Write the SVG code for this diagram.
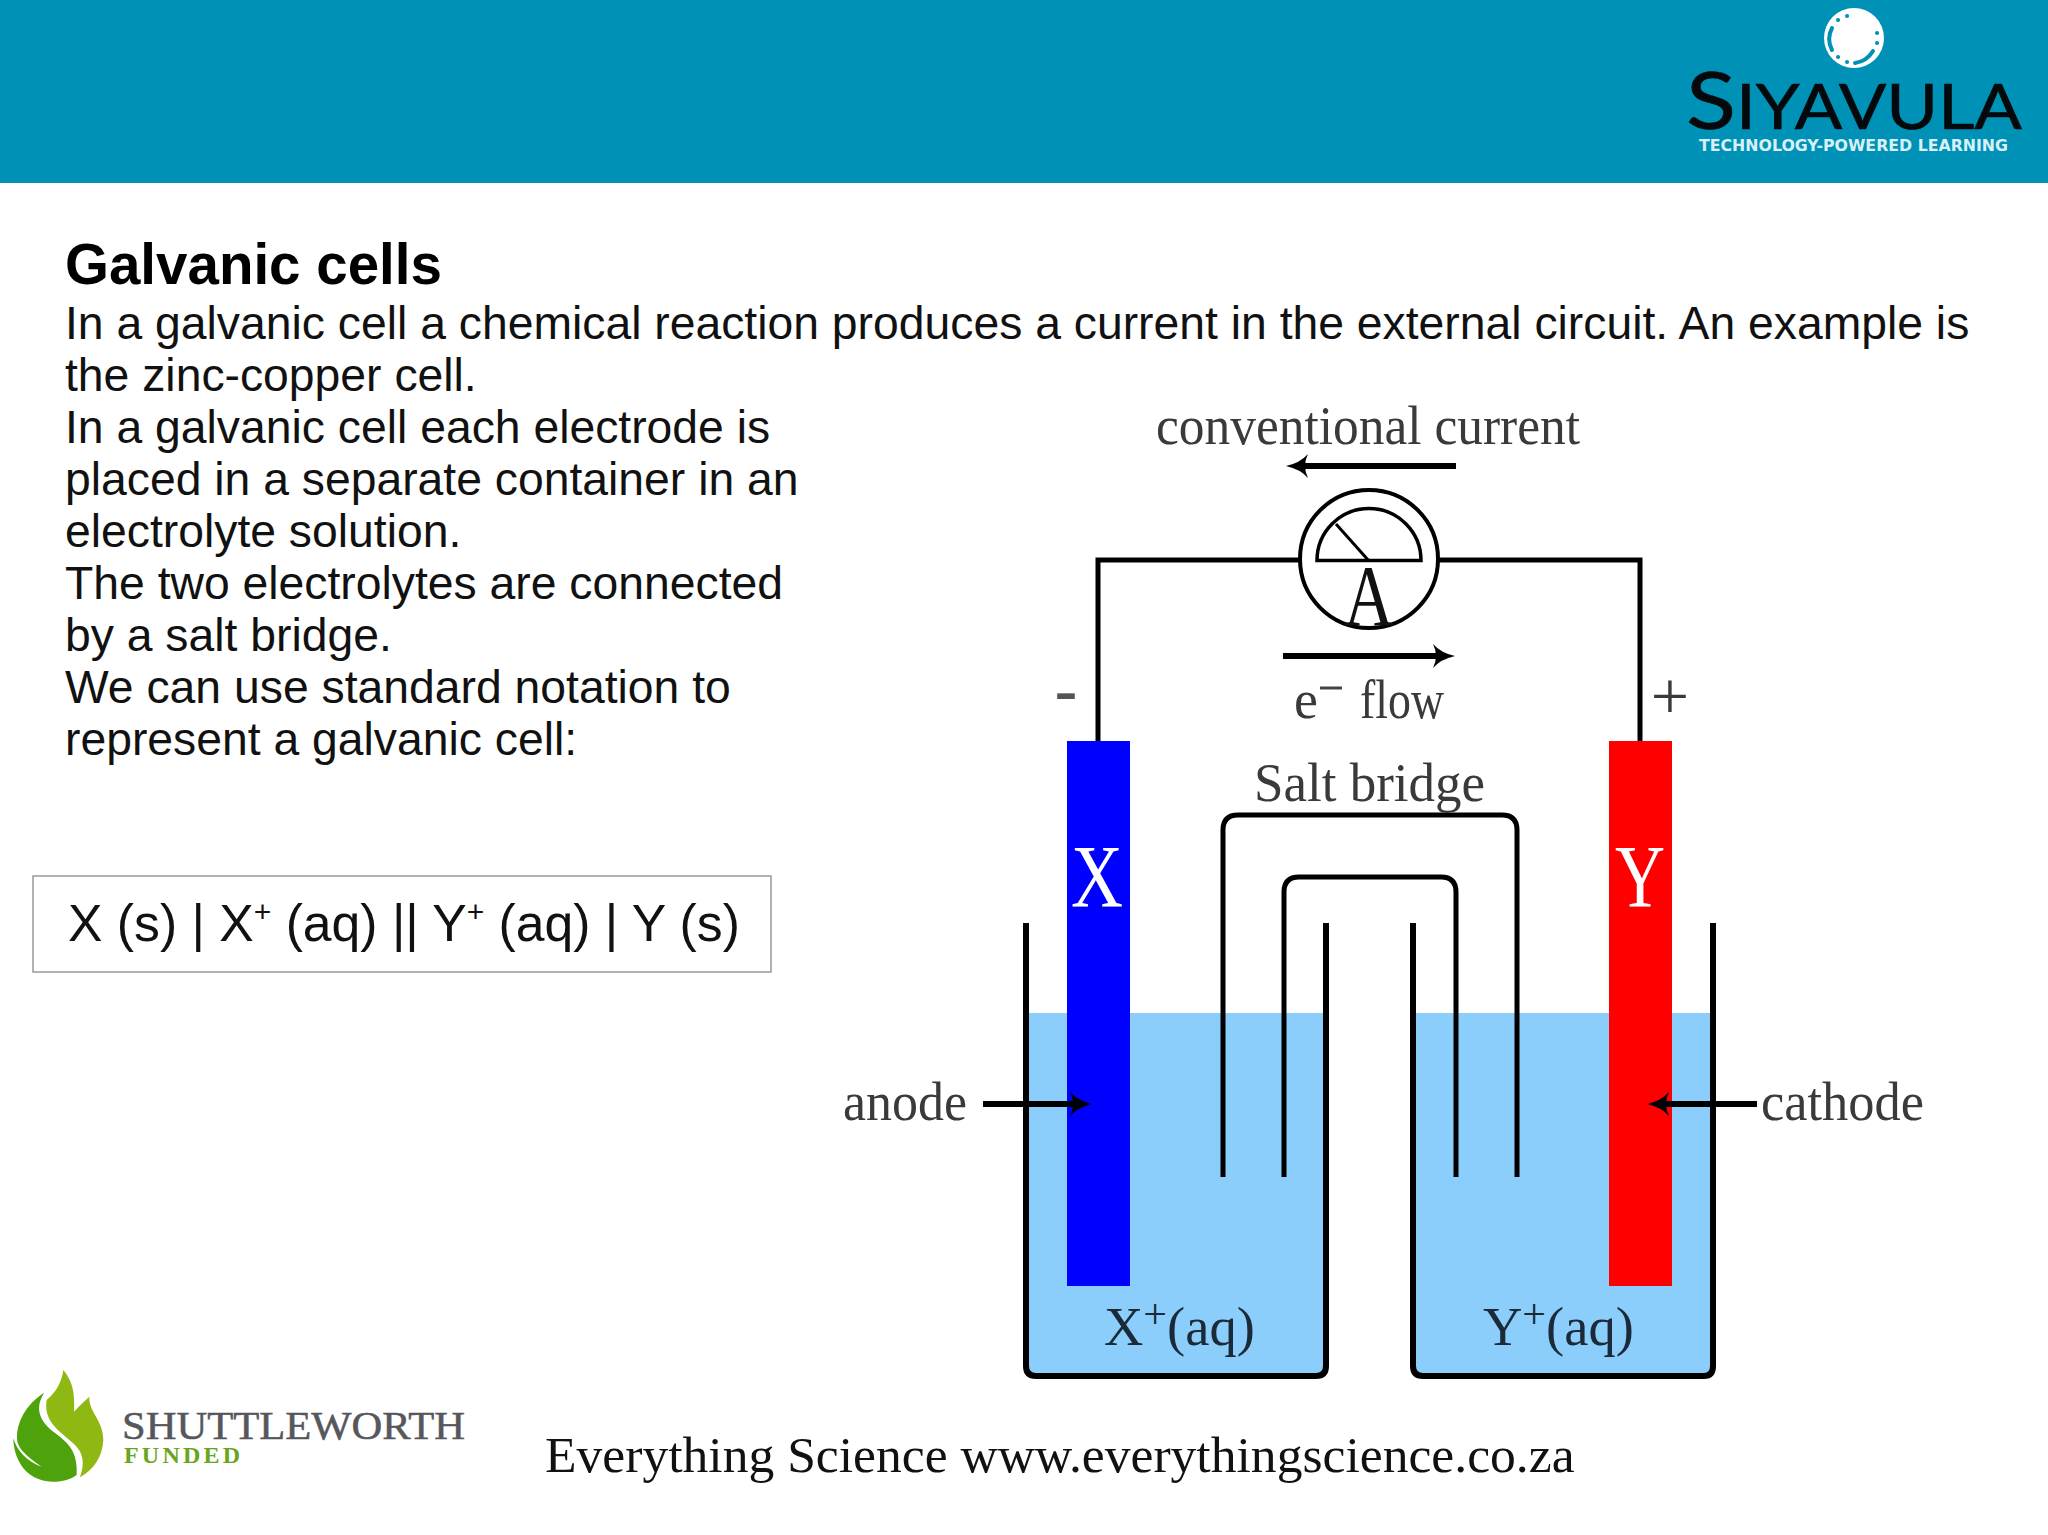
<svg xmlns="http://www.w3.org/2000/svg" width="2048" height="1535" viewBox="0 0 2048 1535">
<style>
.body{font:46.3px "Liberation Sans",Arial,sans-serif;fill:#111}
.cm{font-family:"Liberation Serif","Times New Roman",serif;fill:#3a3a3a;font-size:54px}
.ln{fill:none;stroke:#000;stroke-width:5}
.wall{fill:none;stroke:#000;stroke-width:6;stroke-linejoin:round}
.arr{fill:none;stroke:#000;stroke-width:6}
.dot{fill:none;stroke:#0091b7;stroke-width:4;stroke-linecap:round}
</style>
<defs>
<marker id="head" markerUnits="userSpaceOnUse" markerWidth="32" markerHeight="32" refX="16" refY="16" orient="auto"><path d="M6 4Q14 13 28 16Q14 19 6 28Q12 16 6 4Z" fill="#000"/></marker>
</defs>
<rect width="2048" height="1535" fill="#fff"/>
<g id="header">
<rect width="2048" height="183" fill="#0091b7"/>
<g id="siyavula-logo">
<circle cx="1854" cy="38" r="30" fill="#fff"/>
<path class="dot" d="M1832 28A24 24 0 0 0 1832 50M1855 63A25 25 0 0 0 1873 51M1838 20h.1M1847 16h.1M1838 57h.1M1847 62h.1M1877 33h.1M1877 43h.1"/>
<text x="1686" y="129" font-family="Lato,'Liberation Sans',sans-serif" font-size="61" fill="#05090c" stroke="#05090c" stroke-width=".6" textLength="336" lengthAdjust="spacingAndGlyphs"><tspan font-size="80">S</tspan>IYAVULA</text>
<text x="1699" y="151" font-family="'DejaVu Sans',sans-serif" font-weight="700" font-size="15" fill="#d8f0f8" textLength="309" lengthAdjust="spacingAndGlyphs">TECHNOLOGY-POWERED LEARNING</text>
</g>
</g>
<g id="text-block">
<text x="65" y="284" font-family="'Liberation Sans',Arial,sans-serif" font-weight="700" font-size="56.5" fill="#000">Galvanic cells</text>
<text class="body" x="65" y="338.500">In a galvanic cell a chemical reaction produces a current in the external circuit. An example is</text>
<text class="body" x="65" y="390.500">the zinc-copper cell.</text>
<text class="body" x="65" y="442.500">In a galvanic cell each electrode is</text>
<text class="body" x="65" y="494.500">placed in a separate container in an</text>
<text class="body" x="65" y="546.500">electrolyte solution.</text>
<text class="body" x="65" y="598.500">The two electrolytes are connected</text>
<text class="body" x="65" y="650.500">by a salt bridge.</text>
<text class="body" x="65" y="702.500">We can use standard notation to</text>
<text class="body" x="65" y="754.500">represent a galvanic cell:</text>
</g>
<g id="notation">
<rect x="33" y="876" width="738" height="96" fill="#fff" stroke="#999" stroke-width="1.5"/>
<text x="68" y="941" font-family="'Liberation Sans',Arial,sans-serif" font-size="51.7" fill="#111">X (s) | X<tspan font-size="30" dy="-19">+</tspan><tspan dy="19"> (aq) || Y</tspan><tspan font-size="30" dy="-19">+</tspan><tspan dy="19"> (aq) | Y (s)</tspan></text>
</g>
<g id="cell">
<rect id="water-left" x="1028" y="1013" width="297" height="360" fill="#8bcefb"/>
<rect id="water-right" x="1416" y="1013" width="297" height="360" fill="#8bcefb"/>
<g id="beaker-left"><path class="wall" d="M1026 923V1366Q1026 1376 1036 1376H1316Q1326 1376 1326 1366V923"/></g>
<g id="beaker-right"><path class="wall" d="M1413 923V1366Q1413 1376 1423 1376H1704Q1713 1376 1713 1366V923"/></g>
<g id="salt-bridge">
<path class="ln" d="M1223 1177V830Q1223 815 1238 815H1502Q1517 815 1517 830V1177"/>
<path class="ln" d="M1284 1177V892Q1284 877 1299 877H1441Q1456 877 1456 892V1177"/>
<text class="cm" x="1254" y="801" textLength="231" lengthAdjust="spacingAndGlyphs">Salt bridge</text>
</g>
<g id="electrode-x"><rect x="1067" y="741" width="63" height="545" fill="#0000ff"/>
<text x="1097" y="906" text-anchor="middle" font-family="'Liberation Serif',serif" font-size="88" fill="#fff" textLength="52" lengthAdjust="spacingAndGlyphs">X</text></g>
<g id="electrode-y"><rect x="1609" y="741" width="63" height="545" fill="#ff0000"/>
<text x="1640" y="906" text-anchor="middle" font-family="'Liberation Serif',serif" font-size="88" fill="#fff" textLength="50" lengthAdjust="spacingAndGlyphs">Y</text></g>
<g id="ammeter">
<circle cx="1369" cy="559" r="69" fill="#fff" stroke="#000" stroke-width="4"/>
<path d="M1317 560.500A52 52 0 0 1 1421 560.500Z" fill="none" stroke="#000" stroke-width="3.500"/>
<path d="M1369 561L1336 524" fill="none" stroke="#000" stroke-width="3"/>
<text x="1369" y="625" text-anchor="middle" font-family="'Liberation Serif',serif" font-size="86" fill="#111" textLength="50" lengthAdjust="spacingAndGlyphs">A</text>
</g>
<g id="labels">
<text class="cm" x="1156" y="444" textLength="424" lengthAdjust="spacingAndGlyphs">conventional current</text>
<text class="cm" x="1294" y="718">e</text>
<path d="M1320 688H1342" stroke="#444" stroke-width="3" fill="none"/>
<text class="cm" x="1360" y="718" textLength="84" lengthAdjust="spacingAndGlyphs">flow</text>
<text class="cm" x="1066" y="715" text-anchor="middle" style="font-family:'Liberation Sans',sans-serif;font-size:72px;fill:#555">-</text>
<text class="cm" x="1670" y="719" text-anchor="middle" style="font-size:68px">+</text>
<text class="cm" x="843" y="1120" textLength="124" lengthAdjust="spacingAndGlyphs">anode</text>
<text class="cm" x="1761" y="1120" textLength="163" lengthAdjust="spacingAndGlyphs">cathode</text>
<text class="cm" x="1104" y="1345" style="fill:#1a2a38;font-size:54.5px">X<tspan style="font-size:42px" dy="-17">+</tspan><tspan dy="17">(aq)</tspan></text>
<text class="cm" x="1483" y="1345" style="fill:#1a2a38;font-size:54.5px">Y<tspan style="font-size:42px" dy="-17">+</tspan><tspan dy="17">(aq)</tspan></text>
</g>
</g>
<g id="connectors">
<path class="ln" d="M1300 560H1098V741"/>
<path class="ln" d="M1438 560H1640V741"/>
<path class="arr" d="M1456 466H1298" marker-end="url(#head)"/>
<path class="arr" d="M1283 656H1443" marker-end="url(#head)"/>
<path class="arr" d="M983 1104H1080" marker-end="url(#head)"/>
<path class="arr" d="M1757 1104H1659" marker-end="url(#head)"/>
</g>
<g id="footer">
<text x="545" y="1471.500" font-family="'Liberation Serif','Times New Roman',serif" font-size="51.6" fill="#111">Everything Science www.everythingscience.co.za</text>
<g id="shuttleworth-logo">
<g transform="translate(0 1350) scale(.3333)">
<path d="M190 60C215 90 226 125 222 185C238 168 255 152 268 140C265 185 310 210 310 270C308 320 280 360 240 382C255 340 250 310 225 285C190 250 128 220 140 150C165 130 185 100 190 60Z" fill="#8fb812"/>
<path d="M133 128C105 170 115 210 160 245C200 275 235 300 230 375C190 405 110 405 70 355C55 335 40 305 40 265C50 300 80 335 125 350C90 325 60 305 52 275C45 220 80 160 133 128Z" fill="#4ea30c"/>
</g>
<text x="122" y="1439" font-family="'Liberation Serif',serif" font-size="39" fill="#56565c" stroke="#56565c" stroke-width=".5" textLength="343" lengthAdjust="spacingAndGlyphs">SHUTTLEWORTH</text>
<text x="124" y="1463" font-family="'Liberation Serif',serif" font-weight="700" font-size="24" fill="#6ba51e" textLength="116" lengthAdjust="spacing">FUNDED</text>
</g>
</g>
</svg>
